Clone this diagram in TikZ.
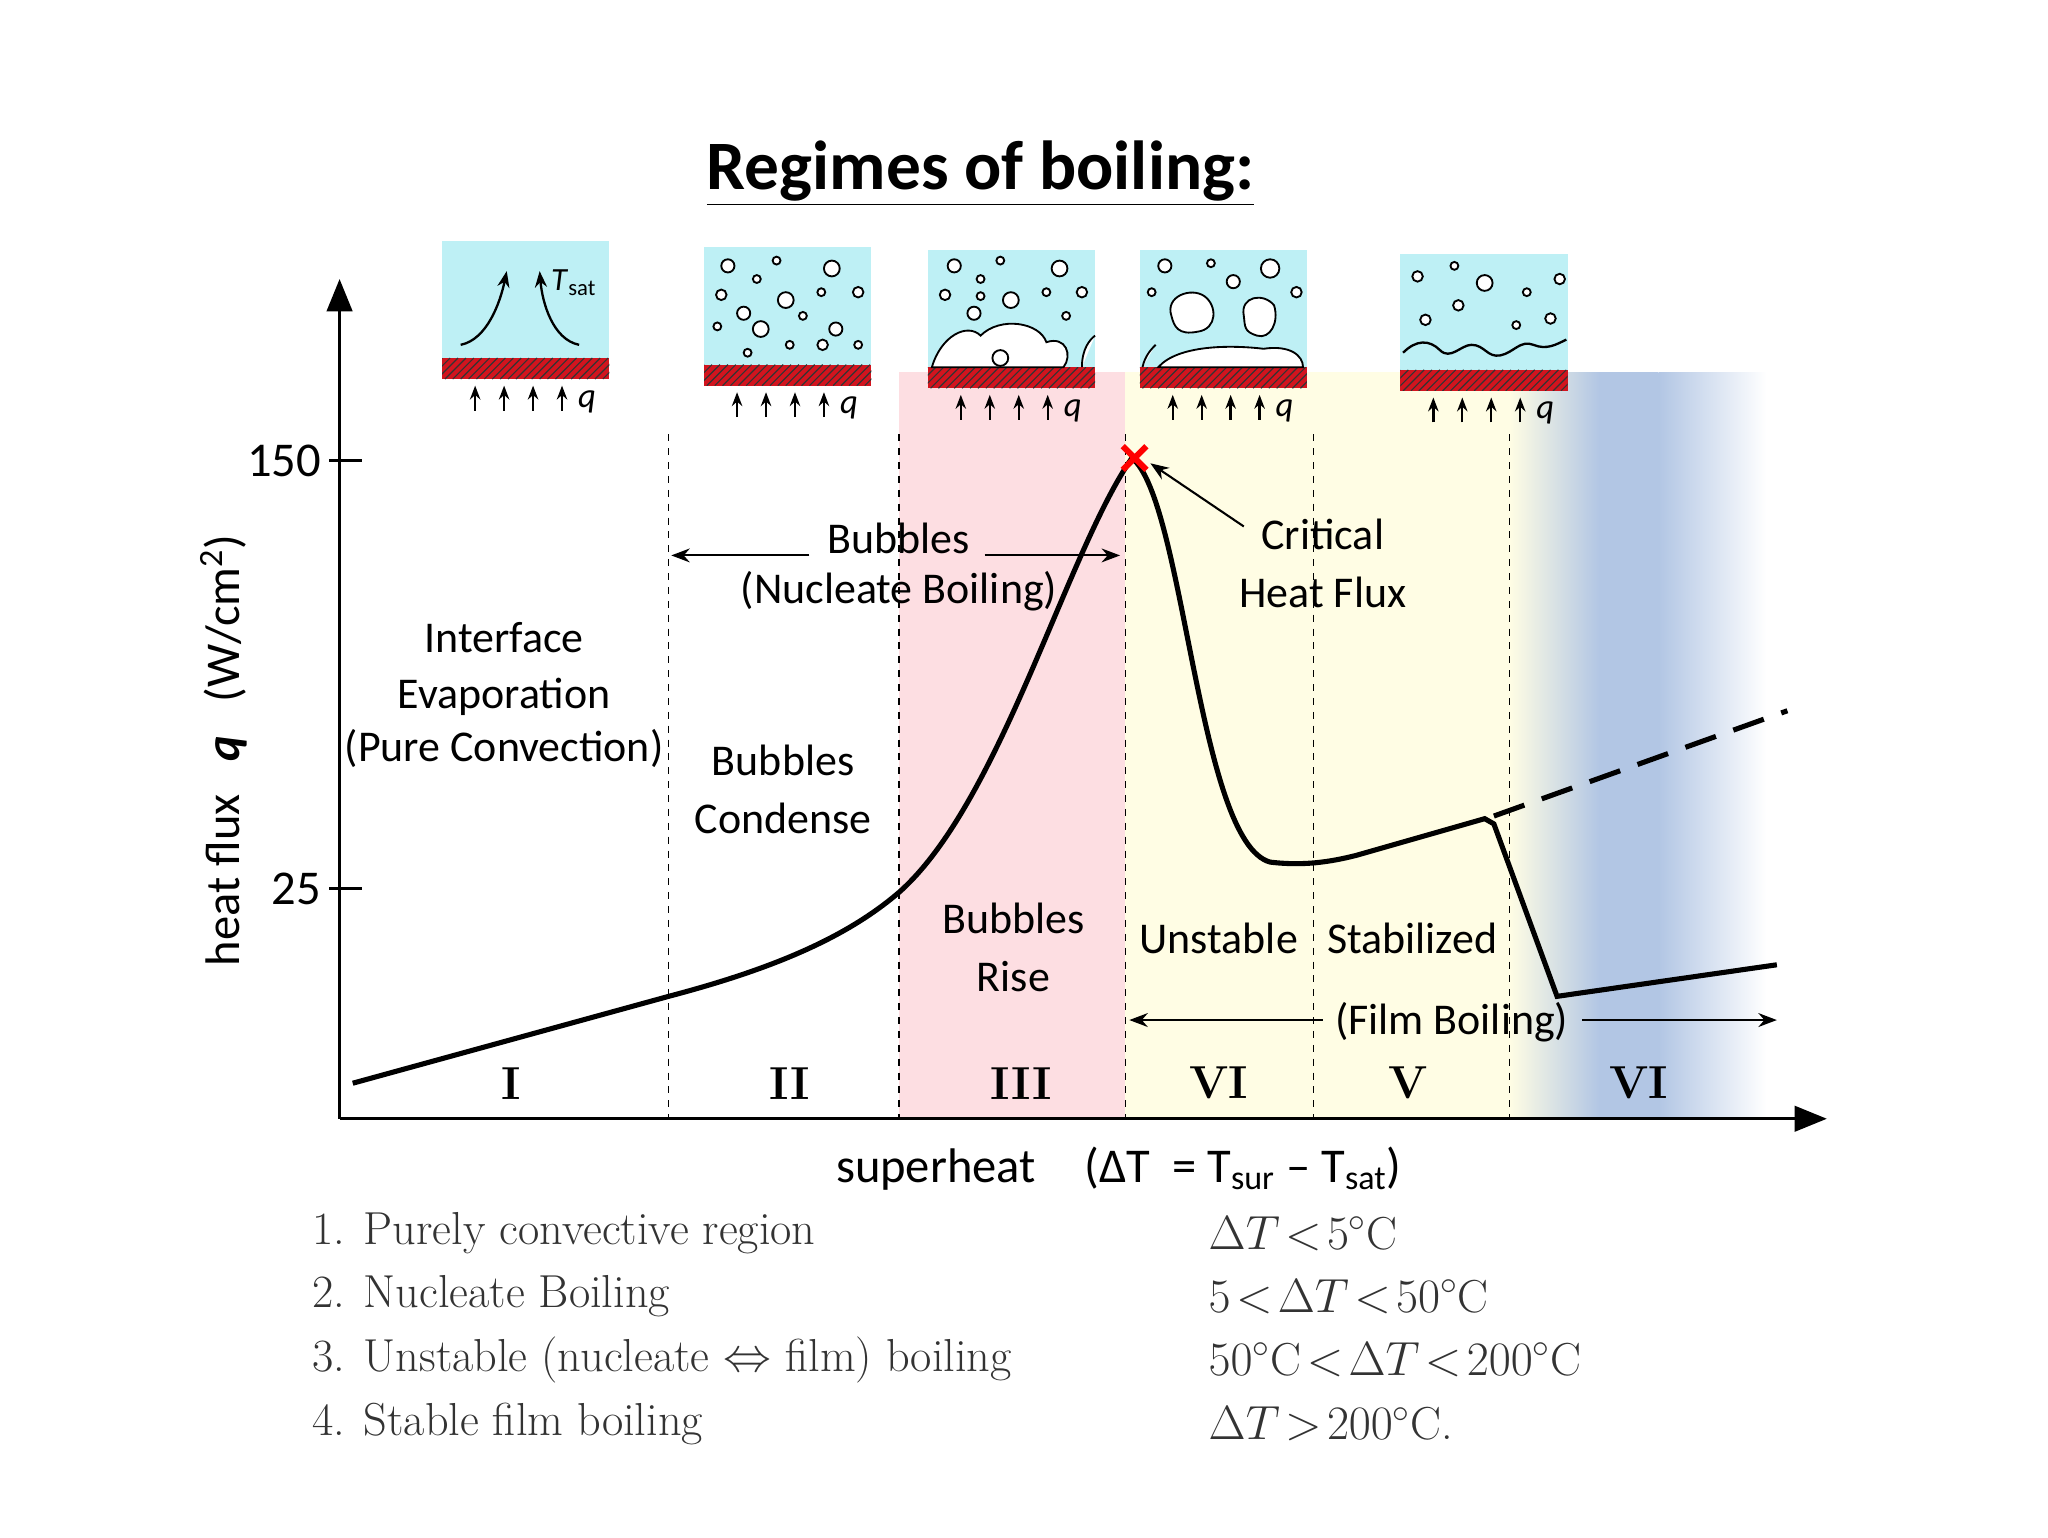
\documentclass[tikz,border=0pt]{standalone}
\usepackage{fontspec}
\setsansfont{Carlito}
\usetikzlibrary{arrows.meta}
\definecolor{pinkbg}{RGB}{253,222,226}
\definecolor{yelbg}{RGB}{255,253,228}
\definecolor{bluebg}{RGB}{178,198,228}
\definecolor{cyanbox}{RGB}{190,240,245}
\definecolor{heat}{RGB}{210,20,30}
\tikzset{
 lbl/.style={font=\sffamily\fontsize{19}{22}\selectfont,align=center},
 rom/.style={font=\rmfamily\bfseries\fontsize{20}{22}\selectfont},
 divider/.style={dashed,line width=0.7pt},
 arr/.style={-{Stealth[length=8pt]},line width=0.9pt},
 lst/.style={font=\rmfamily\fontsize{20}{23}\selectfont,text=black!80,anchor=west,inner sep=0},
 bub/.style={draw,line width=0.8pt,fill=white},
}
\newcommand{\inset}[3]{% x0, y0, y1(top of bar)
 \fill[cyanbox] (#1,#2) rectangle ++(127,{#3-#2});
 \fill[heat] (#1,#3) rectangle ++(127,16);
 \begin{scope}
 \clip (#1,#3) rectangle ++(127,16);
 \foreach \d in {0,6,...,150}{\draw[black!80,line width=0.5pt] ({#1+\d-16},{#3+16})--({#1+\d},{#3});}
 \end{scope}
 \foreach \k in {0,1,2,3}{\draw[-{Stealth[length=6pt]},line width=1pt] ({#1+25+22*\k},{#3+40})--({#1+25+22*\k},{#3+21});}
 \node[font=\sffamily\itshape\fontsize{15}{15}\selectfont] at ({#1+110},{#3+33}) {q};
}
\begin{document}
\begin{tikzpicture}[x=0.02cm,y=-0.02cm]
\useasboundingbox (0,0) rectangle (1556,1168);
\fill[white] (0,0) rectangle (1556,1168);
% backgrounds
\fill[pinkbg] (683,283) rectangle (855,850);
\fill[yelbg] (855,283) rectangle (1147,850);
\shade[left color=yelbg,right color=bluebg] (1147,283) rectangle (1215,850);
\fill[bluebg] (1215,283) rectangle (1260,850);
\shade[left color=bluebg,right color=white] (1260,283) rectangle (1342,850);
% title
\node[font=\sffamily\bfseries\fontsize{30}{34}\selectfont] (title) at (745,132) {\underline{Regimes of boiling:}};
% dividers
\foreach \x in {508,683,855,998,1147}{\draw[divider] (\x,330)--(\x,850);}
% axes
\coordinate (O) at (258,850);
\coordinate (Ytop) at (258,212);
\coordinate (Xend) at (1388,850);
\draw[line width=1.4pt,-{Triangle[length=14pt,width=11pt]}] (O)--(Ytop);
\draw[line width=1.4pt,-{Triangle[length=14pt,width=11pt]}] (O)--(Xend);
\draw[line width=1.4pt] (250,350)--(275,350) (250,675)--(275,675);
\node[lbl,font=\sffamily\fontsize{21}{24}\selectfont,anchor=east] (t150) at (250,350) {150};
\node[lbl,font=\sffamily\fontsize{21}{24}\selectfont,anchor=east] (t25) at (250,675) {25};
\node[lbl,font=\sffamily\fontsize{21}{24}\selectfont,rotate=90] (ylab) at (170,570) {heat flux\ \ \ \textbf{\textit{q}}\ \ \ (W/cm\textsuperscript{2})};
\node[lbl,font=\sffamily\fontsize{21}{24}\selectfont] (xlab) at (850,888) {superheat\quad(ΔT \ = T\textsubscript{sur} -- T\textsubscript{sat})};
% curve
\draw[line width=2.2pt] (268,823) -- (508,757) .. controls (580,738) and (640,715) .. (683,678)
 .. controls (760,610) and (810,420) .. (860,348)
 .. controls (900,380) and (910,640) .. (965,655)
 .. controls (990,658) and (1010,655) .. (1030,650)
 -- (1128,622) -- (1135,626) -- (1183,757) -- (1350,733);
\draw[line width=2.2pt,dash pattern=on 14pt off 8pt] (1135,620)--(1358,540);
\coordinate (chf) at (862,348);
\draw[red,line width=2.6pt] ([shift={(-9,-9)}]chf)--([shift={(9,9)}]chf) ([shift={(-9,9)}]chf)--([shift={(9,-9)}]chf);
% labels
\node[lbl] (bub) at (683,409) {Bubbles};
\node[lbl] (nb) at (683,449) {(Nucleate Boiling)};
\coordinate (nbL) at (510,422); \coordinate (nbR) at (851,422);
\draw[arr] (615,422)--(nbL); \draw[arr] (748,422)--(nbR);
\node[lbl] (crit) at (1005,428) {Critical\\[3pt]Heat Flux};
\coordinate (chfT) at (874,352);
\draw[arr] (945,400)--(chfT);
\node[lbl] (ie) at (383,528) {Interface\\[2pt]Evaporation\\[1pt](Pure Convection)};
\node[lbl] (bc) at (595,600) {Bubbles\\[3pt]Condense};
\node[lbl] (br) at (770,720) {Bubbles\\[3pt]Rise};
\node[lbl] (un) at (926,713) {Unstable};
\node[lbl] (st) at (1073,713) {Stabilized};
\node[lbl] (fb) at (1103,777) {(Film Boiling)};
\coordinate (fbL) at (858,775); \coordinate (fbR) at (1350,775);
\draw[arr] (1005,775)--(fbL); \draw[arr] (1202,775)--(fbR);
\foreach \x/\t in {388/I,600/II,776/III,926/VI,1070/V,1245/VI}{\node[rom] at (\x,823) {\t};}
% list
\node[lst] (l1) at (237,937) {1. Purely convective region};
\node[lst] (l2) at (237,985) {2. Nucleate Boiling};
\node[lst] (l3) at (237,1033) {3. Unstable (nucleate $\Leftrightarrow$ film) boiling};
\node[lst] (l4) at (237,1082) {4. Stable film boiling};
\node[lst] (r1) at (918,937) {$\Delta T\!<\!5^\circ$C};
\node[lst] (r2) at (918,985) {$5\!<\!\Delta T\!<\!50^\circ$C};
\node[lst] (r3) at (918,1033) {$50^\circ\mathrm{C}\!<\!\Delta T\!<\!200^\circ$C};
\node[lst] (r4) at (918,1082) {$\Delta T\!>\!200^\circ$C.};
% insets
\inset{336}{183}{272}
\draw[-{Stealth[length=7pt]},line width=1pt] (350,262) .. controls (370,258) and (380,230) .. (385,206);
\draw[-{Stealth[length=7pt]},line width=1pt] (440,262) .. controls (420,258) and (412,230) .. (410,206);
\node[font=\sffamily\fontsize{14}{14}\selectfont] at (436,215) {\textit{T}\textsubscript{sat}};
\inset{535}{188}{277}
\foreach \x/\y/\r in {553/202/5,590/198/3,632/204/6,575/212/3,548/224/4,597/228/6,624/222/3,652/222/4,565/238/5,610/240/3,635/250/5,545/248/3,578/250/6,600/262/3,652/262/3,568/268/3,625/262/4}{\draw[bub] (\x,\y) circle (\r);}
\inset{705}{190}{279}
\foreach \x/\y/\r in {725/202/5,760/198/3,805/204/6,745/212/3,718/224/4,768/228/6,795/222/3,822/222/4,740/238/5,810/240/3,745/225/3}{\draw[bub] (\x,\y) circle (\r);}
\draw[bub] (708,279) .. controls (715,255) and (735,245) .. (745,255) .. controls (760,240) and (790,245) .. (795,260) .. controls (810,255) and (815,270) .. (808,279) -- cycle;
\draw[bub] (760,272) circle (6);
\draw[bub] (822,279) .. controls (822,265) and (828,258) .. (832,255);
\inset{866}{190}{279}
\foreach \x/\y/\r in {885/202/5,920/200/3,965/204/7,937/214/5,985/222/4,875/222/3}{\draw[bub] (\x,\y) circle (\r);}
\draw[bub] (890,240) .. controls (885,225) and (905,218) .. (915,225) .. controls (925,232) and (925,250) .. (910,252) .. controls (895,255) and (892,248) .. (890,240);
\draw[bub] (945,240) .. controls (942,225) and (960,222) .. (968,232) .. controls (972,245) and (965,258) .. (955,255) .. controls (945,252) and (946,248) .. (945,240);
\draw[bub] (880,279) .. controls (895,262) and (935,262) .. (960,265) .. controls (980,262) and (990,270) .. (990,279) -- cycle;
\draw[bub] (868,279) .. controls (870,270) and (875,265) .. (878,262);
\inset{1064}{193}{281}
\foreach \x/\y/\r in {1077/210/4,1105/202/3,1128/215/6,1160/222/3,1185/212/4,1108/232/4,1083/243/4,1152/247/3,1178/242/4}{\draw[bub] (\x,\y) circle (\r);}
\draw[line width=1pt] (1066,268) .. controls (1076,258) and (1086,258) .. (1094,266) .. controls (1102,274) and (1110,262) .. (1118,262) .. controls (1128,262) and (1130,272) .. (1140,270) .. controls (1150,268) and (1155,258) .. (1165,262) .. controls (1175,266) and (1182,262) .. (1190,258);
\end{tikzpicture}
\end{document}
